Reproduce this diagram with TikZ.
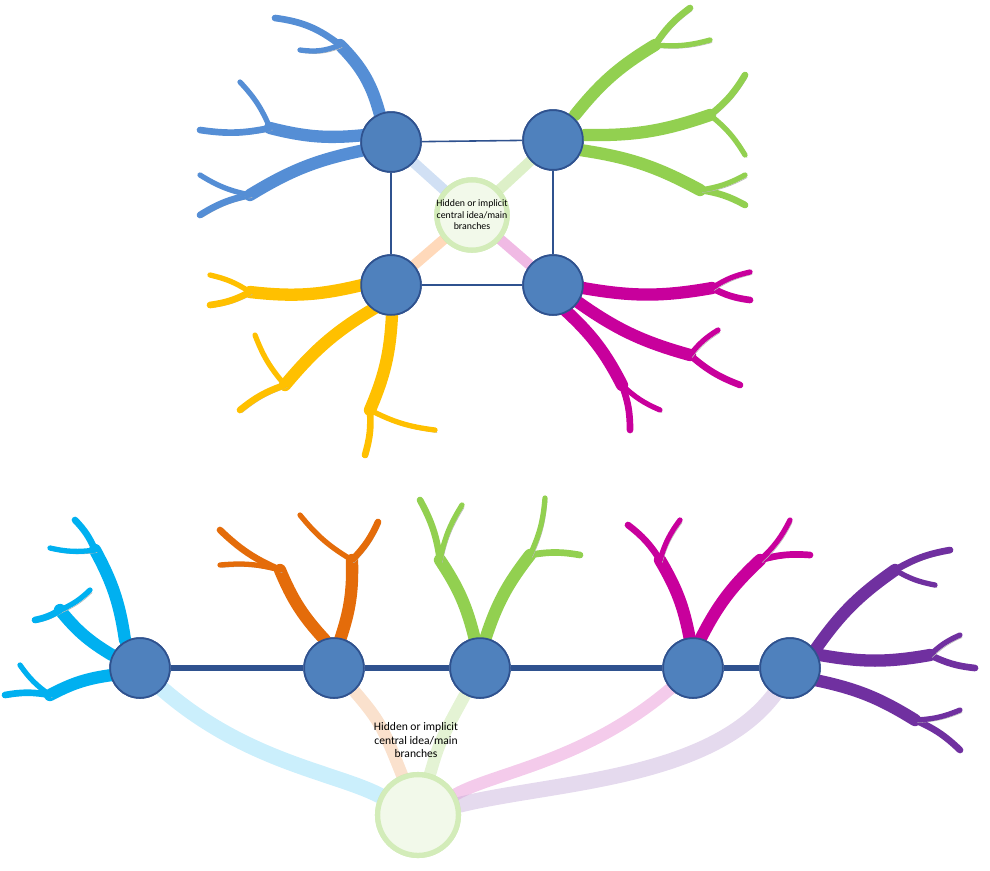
\documentclass[tikz,border=0pt]{standalone}
\usepackage{fontspec}
\setmainfont{Carlito}
\definecolor{hub}{HTML}{4F81BD}
\definecolor{hubline}{HTML}{2F528F}
\definecolor{cblue}{HTML}{558ED5}
\definecolor{cgreen}{HTML}{92D050}
\definecolor{cyellow}{HTML}{FFC000}
\definecolor{cmag}{HTML}{C8009C}
\definecolor{ccyan}{HTML}{00B0F0}
\definecolor{corange}{HTML}{E46C0A}
\definecolor{cpurple}{HTML}{7030A0}
\tikzset{
  hubnode/.style={circle, draw=hubline, line width=1pt, fill=hub, minimum size=34pt, inner sep=0pt},
  core/.style={circle, draw=cgreen!40, line width=3pt, fill=cgreen!12, inner sep=0pt},
  limb/.style={line cap=round, line join=round,
    preaction={draw=gray!55, transform canvas={shift={(1.2pt,-1.4pt)}}}},
  ghost/.style={line cap=round, opacity=0.45},
  caption/.style={font=\fontsize{5.6}{6.6}\selectfont, align=center}
}
% colour, start, fork point, tip, side tip, bend
\newcommand\limb[6]{%
  \draw[limb, draw=#1, line width=7pt] #2 to[bend left=#6] #3;
  \draw[limb, draw=#1, line width=3.8pt] #3 to[bend left=#6] #4;
  \draw[limb, draw=#1, line width=3pt] #3 to[bend right=#6] #5;}
\begin{document}
\begin{tikzpicture}[x=0.02cm, y=-0.02cm]
\useasboundingbox (0,0) rectangle (990,870);

% top mind map
\node[core, minimum size=40pt] (topcore) at (472,215) {};
\node[hubnode] (tl) at (391,142) {};
\node[hubnode] (tr) at (553,140) {};
\node[hubnode] (bl) at (391,285) {};
\node[hubnode] (br) at (553,285) {};
\draw[ghost, draw=cblue!60, line width=6pt] (tl.center) -- (topcore);
\draw[ghost, draw=cgreen!70, line width=6pt] (tr.center) -- (topcore);
\draw[ghost, draw=cyellow!60!red!60, line width=6pt] (bl.center) -- (topcore);
\draw[ghost, draw=cmag!60, line width=6pt] (br.center) -- (topcore);
\node[core, minimum size=40pt] at (topcore) {};
\node[caption] at (topcore) {Hidden or implicit\\central idea/main\\branches};
\draw[hubline, line width=0.9pt] (tl) -- (tr) -- (br) -- (bl) -- (tl);

\limb{cblue}{(380,115)}{(340,45)}{(275,18)}{(300,50)}{-15}
\limb{cblue}{(365,135)}{(270,128)}{(200,130)}{(240,82)}{10}
\limb{cblue}{(365,150)}{(250,195)}{(200,215)}{(200,175)}{-10}
\limb{cgreen}{(575,115)}{(655,45)}{(690,8)}{(710,40)}{10}
\limb{cgreen}{(585,135)}{(710,115)}{(745,75)}{(745,155)}{-10}
\limb{cgreen}{(580,150)}{(700,190)}{(745,205)}{(745,175)}{10}
\limb{cyellow}{(362,285)}{(250,292)}{(210,305)}{(210,275)}{10}
\limb{cyellow}{(380,305)}{(285,385)}{(240,410)}{(255,335)}{-10}
\limb{cyellow}{(392,315)}{(370,410)}{(365,455)}{(435,430)}{10}
\limb{cmag}{(583,288)}{(712,288)}{(750,300)}{(750,272)}{-10}
\limb{cmag}{(575,300)}{(690,355)}{(740,385)}{(718,330)}{-10}
\limb{cmag}{(565,310)}{(622,385)}{(630,430)}{(660,410)}{10}
\node[hubnode] at (tl) {};
\node[hubnode] at (tr) {};
\node[hubnode] at (bl) {};
\node[hubnode] at (br) {};

% bottom mind map
\node[core, minimum size=46pt] (botcore) at (418,815) {};
\node[hubnode] (h1) at (140,668) {};
\node[hubnode] (h2) at (334,668) {};
\node[hubnode] (h3) at (480,668) {};
\node[hubnode] (h4) at (693,668) {};
\node[hubnode] (h5) at (790,668) {};
\draw[ghost, draw=ccyan!45, line width=9pt] (h1.center) .. controls (230,760) and (330,770) .. (botcore);
\draw[ghost, draw=corange!45, line width=7pt] (h2.center) .. controls (380,720) .. (botcore);
\draw[ghost, draw=cgreen!55, line width=7pt] (h3.center) .. controls (440,740) .. (botcore);
\draw[ghost, draw=cmag!45, line width=7pt] (h4.center) .. controls (600,760) and (500,770) .. (botcore);
\draw[ghost, draw=cpurple!40, line width=9pt] (h5.center) .. controls (740,780) and (560,780) .. (botcore);
\node[core, minimum size=46pt] at (botcore) {};
\node[caption, font=\fontsize{6.6}{7.8}\selectfont] at (416,740) {Hidden or implicit\\central idea/main\\branches};
\draw[hubline, line width=3pt] (h1) -- (h2) -- (h3) -- (h4) -- (h5);

\limb{ccyan}{(125,640)}{(95,550)}{(75,520)}{(50,548)}{-10}
\limb{ccyan}{(112,655)}{(60,610)}{(35,620)}{(90,590)}{10}
\limb{ccyan}{(112,675)}{(50,695)}{(5,695)}{(20,665)}{-10}
\limb{corange}{(325,640)}{(280,570)}{(220,530)}{(220,565)}{10}
\limb{corange}{(340,640)}{(352,560)}{(378,522)}{(300,515)}{-10}
\limb{cgreen}{(475,640)}{(440,560)}{(420,500)}{(462,505)}{-10}
\limb{cgreen}{(485,640)}{(530,555)}{(580,555)}{(545,498)}{10}
\limb{cmag}{(690,640)}{(660,560)}{(628,525)}{(680,520)}{-10}
\limb{cmag}{(700,640)}{(760,560)}{(810,555)}{(790,520)}{10}
\limb{cpurple}{(815,650)}{(895,570)}{(950,550)}{(935,585)}{10}
\limb{cpurple}{(820,655)}{(930,655)}{(975,668)}{(960,635)}{-10}
\limb{cpurple}{(815,680)}{(915,720)}{(960,750)}{(960,710)}{10}
\foreach \h in {h1,h2,h3,h4,h5} \node[hubnode] at (\h) {};
\end{tikzpicture}
\end{document}
